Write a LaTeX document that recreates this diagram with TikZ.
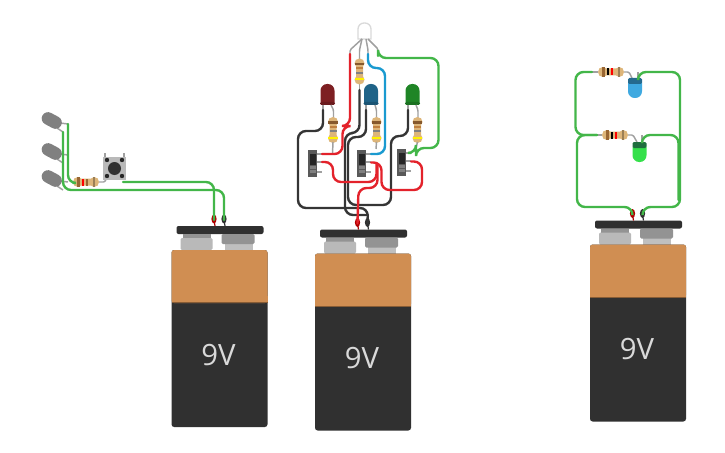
\documentclass[tikz,border=0pt]{standalone}
\usepackage{fontspec}
\setsansfont{Open Sans}
\definecolor{wirered}{HTML}{E3222B}
\definecolor{wireblue}{HTML}{1A9AD0}
\definecolor{wiregreen}{HTML}{43B649}
\definecolor{wireblack}{HTML}{353535}
\definecolor{leadgrey}{HTML}{A0A0A0}
\definecolor{copper}{HTML}{D08E52}
\definecolor{coal}{HTML}{303030}
\definecolor{restan}{HTML}{DDB579}
\definecolor{ledred}{HTML}{7D1F22}
\definecolor{ledblue}{HTML}{1F6388}
\definecolor{ledgreen}{HTML}{1F8526}
\definecolor{capblue}{HTML}{256A8E}
\definecolor{bodyblue}{HTML}{3FA9E0}
\definecolor{capgreen}{HTML}{1F6E3E}
\definecolor{bodygreen}{HTML}{35E04B}
\tikzset{
  wire/.style={line width=1.8pt,rounded corners=6pt,line cap=round},
  lead/.style={line width=1.1pt,leadgrey,rounded corners=1pt},
  pics/battery/.style={code={
    \fill[coal,rounded corners=1.5pt] (5,-24) rectangle (92,-16);
    \fill[gray!85] (11,-16) rectangle (39,-11);
    \fill[gray!55,rounded corners=1pt] (9,-12) rectangle (41,0);
    \fill[gray!50] (53,-7) rectangle (81,0);
    \fill[gray!85,rounded corners=1pt] (50,-16) rectangle (83,-6);
    \fill[coal,rounded corners=2pt] (0,0) rectangle (96,177);
    \fill[copper,rounded corners=2pt] (0,0) rectangle (96,53);
    \fill[copper] (0,46) rectangle (96,52);
    \fill[black!35!copper] (0,52) rectangle (96,53);
    \node[text=gray!30,font=\sffamily\fontsize{22}{22}\selectfont] (-label) at (47,105) {9V};
    \coordinate (-red) at (42.5,-30);
    \coordinate (-black) at (52.5,-30);
    \draw[line width=.9pt,red!65!black] (42.5,-30) -- (43.5,-24);
    \draw[line width=.9pt,coal] (52.5,-30) -- (53.5,-24);
    \fill[red!70!black] (42.5,-31) ellipse (2.6 and 4.5);
    \fill[coal] (52.5,-31) ellipse (2.6 and 4.5);
  }},
  pics/resistor/.style n args={4}{code={
    \fill[restan] (-13,0) .. controls (-13,-3) and (-11,-5) .. (-8,-5) -- (-5,-3.5) -- (5,-3.5) -- (8,-5) .. controls (11,-5) and (13,-3) .. (13,0) .. controls (13,3) and (11,5) .. (8,5) -- (5,3.5) -- (-5,3.5) -- (-8,5) .. controls (-11,5) and (-13,3) .. cycle;
    \fill[#1] (-8.8,-4.6) rectangle (-6.4,4.6);
    \fill[#2] (-4.4,-3.5) rectangle (-2.2,3.5);
    \fill[#3] (0.2,-3.5) rectangle (2.4,3.5);
    \fill[#4] (7,-4.8) rectangle (9,4.8);
  }},
  pics/led/.style={code={
    \fill[#1] (-7,10) {[rounded corners=5pt] -- (-7,-10) -- (7,-10)} -- (7,10) -- cycle;
    \fill[#1!85!black,rounded corners=1pt] (-7.5,8) rectangle (7.5,11);
  }},
  pics/flatled/.style 2 args={code={
    \fill[#2] (-7,5) {[rounded corners=5pt] -- (-7,20) -- (7,20)} -- (7,5) -- cycle;
    \fill[#1,rounded corners=1pt] (-7,0) rectangle (7,6);
  }},
  pics/greyled/.style={code={
    \draw[lead] (9,2) -- (17,3);
    \draw[lead] (6,7) -- (12,11);
    \draw[line width=9.5pt,line cap=round,gray] (-3,-2.5) -- (4.5,1.5);
  }},
  pics/slide/.style={code={
    \draw[lead] (9,4) -- (14,4);
    \draw[lead] (9,12) -- (14,12);
    \draw[lead] (9,22) -- (14,22);
    \fill[gray!70!black] (0,0) rectangle (9,27);
    \fill[black!85] (2,4) rectangle (8,15);
    \fill[gray] (2,16) rectangle (8,18.5);
    \fill[gray] (2,20) rectangle (8,22.5);
  }},
}
\begin{document}
\begin{tikzpicture}[x=0.75pt,y=-0.75pt]
\useasboundingbox (0,0) rectangle (725,453);
% batteries
\pic (batA) at (171.5,250) {battery};
\pic (batB) at (315,253.5) {battery};
\pic (batC) at (590,244.5) {battery};
% left circuit
\pic at (51,121) {greyled};
\pic at (51,152) {greyled};
\pic at (51,179) {greyled};
\draw[lead] (99,182) -- (105,182) -- (106,179);
\pic at (86,182) {resistor={brown!80!black}{red}{brown!80!black}{restan!70!black}};
\draw[lead] (105,157) -- (105,153);
\draw[lead] (124,157) -- (124,153);
\fill[gray!55] (103,157) rectangle (126,180);
\foreach \px/\py in {107/160,122/160,107/176,122/176}
  \fill[gray!30!black] (\px,\py) circle (2.2);
\fill[coal] (114.5,168.5) circle (6.5);
\draw[wire,wiregreen] (68,124) -- (68,183) -- (73,183);
\draw[wire,wiregreen] (63,132) -- (63,190) -- (224,190) -- (batA-black);
\draw[wire,wiregreen] (123,182) -- (214,182) -- (batA-red);
% middle circuit
\draw[line width=1pt,gray!30,fill=white] (358,39) {[rounded corners=4.5pt] -- (358,23) -- (371,23)} -- (371,39) -- cycle;
\draw[lead] (362,39) -- (350,50) -- (350,54);
\draw[lead] (362,39) -- (359.5,50) -- (359.5,60);
\draw[lead] (366,39) -- (368,50) -- (368,54);
\draw[lead] (368,39) -- (378,49) -- (378,56);
\draw[lead] (359.5,83) -- (359.5,90);
\pic at (359.5,71.5) [rotate=-90] {resistor={brown!70!black}{brown}{gray}{yellow}};
\pic at (327.5,94) {led=ledred};
\pic at (371,94) {led=ledblue};
\pic at (412.5,94) {led=ledgreen};
\draw[lead] (323,105) -- (323,112);
\draw[lead] (331,105) -- (333.5,110) -- (333.5,118);
\draw[lead] (366,105) -- (366,112);
\draw[lead] (375,105) -- (376.5,110) -- (376.5,118);
\draw[lead] (408,105) -- (408,112);
\draw[lead] (416,105) -- (418,110) -- (418,118);
\pic at (333,130) [rotate=-90] {resistor={brown!70!black}{brown}{gray}{yellow}};
\pic at (376.5,130) [rotate=-90] {resistor={brown!70!black}{brown}{gray}{yellow}};
\pic at (417.5,130) [rotate=-90] {resistor={brown!70!black}{brown}{gray}{yellow}};
\pic at (308,150) {slide};
\pic at (357,150) {slide};
\pic at (397,149) {slide};
\draw[lead] (333,142) -- (332.5,154);
\draw[lead] (376.5,142) -- (376,149);
\draw[lead] (417.5,142) -- (416,148);
\draw[wire,wireblack] (323,110) -- (323,131) -- (298,131) -- (298,208) -- (368,208) -- (batB-black);
\draw[wire,wireblack] (359.5,90) -- (359.5,133) -- (345,133) -- (345,215) -- (368,215);
\draw[wire,wireblack] (366,110) -- (366,137) -- (348,137) -- (348,205) -- (368,205);
\draw[wire,wireblack] (408,110) -- (408,136) -- (391,136) -- (391,205) -- (368,205);
\draw[wire,wirered] (350,54) -- (350,126) -- (342.5,126) -- (342.5,154) -- (322,154);
\draw[wire,wireblue] (368,54) -- (368,68) -- (385,68) -- (385,154) -- (371,154);
\draw[wire,wiregreen] (378,56) -- (378,58) -- (438.5,58) -- (438.5,148) -- (416,148) -- (416,153) -- (411,153);
\draw[wire,wirered] (322,162) -- (333,162) -- (333,182) -- (376.5,182) -- (376.5,163);
\draw[wire,wirered] (371,162.5) -- (381.5,162.5) -- (381.5,190) -- (422,190) -- (422,161.5) -- (411,161.5);
\draw[wire,wirered] (377.5,165) -- (377.5,188) -- (358.5,188) -- (batB-red);
% right circuit
\draw[lead] (624,72) -- (629,72) -- (632,78);
\draw[lead] (638,72) -- (638,78);
\draw[lead] (628,135) -- (633,135) -- (637,142);
\draw[lead] (642,135) -- (642,142);
\draw[lead] (592,72) -- (598,72);
\draw[lead] (597,135) -- (602,135);
\pic at (611,72) {resistor={brown!80!black}{black}{red}{restan!70!black}};
\pic at (615,135) {resistor={brown!80!black}{black}{red}{restan!70!black}};
\pic at (635,78) {flatled={capblue}{bodyblue}};
\pic at (639.5,142) {flatled={capgreen}{bodygreen}};
\draw[wire,wiregreen] (592,72) -- (575.5,72) -- (575.5,135) -- (597,135);
\draw[wire,wiregreen] (597,135) -- (577,135) -- (577,207) -- (632.5,207) -- (batC-red);
\draw[wire,wiregreen] (638,78) -- (638,72) -- (680,72) -- (680,207) -- (642.5,207) -- (batC-black);
\draw[wire,wiregreen] (642,142) -- (642,135) -- (678.5,135) -- (678.5,200);
\end{tikzpicture}
\end{document}
